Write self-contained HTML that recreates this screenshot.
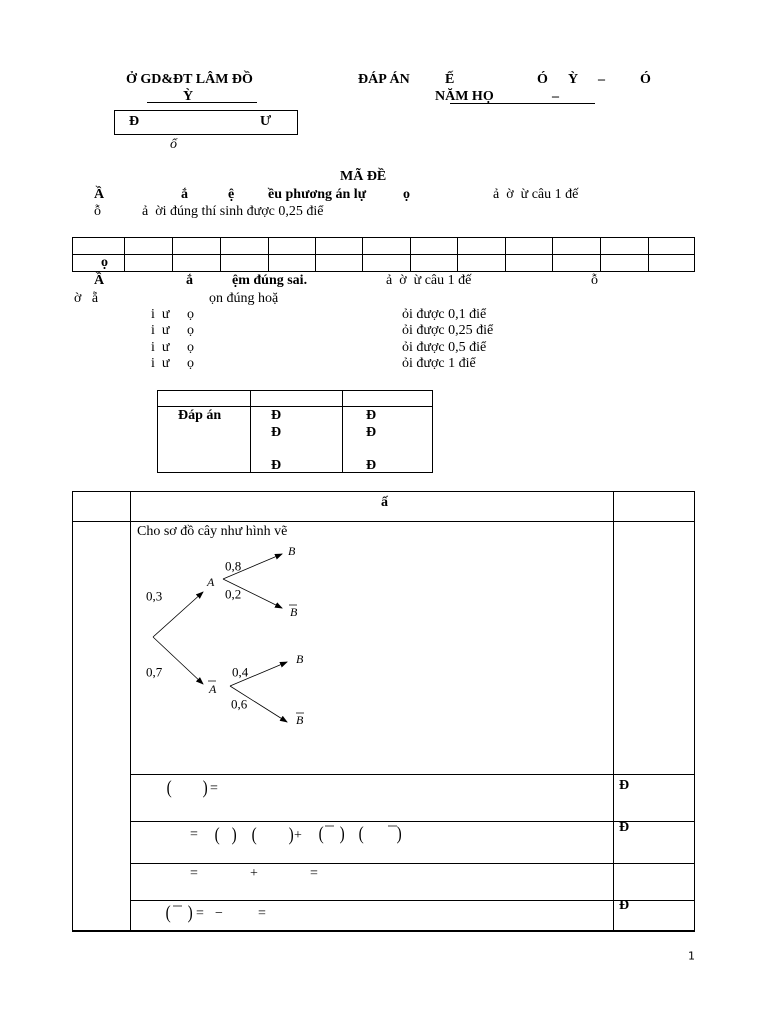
<!DOCTYPE html>
<html><head><meta charset="utf-8"><style>
body{margin:0;background:#fff}
#p{position:relative;width:768px;height:1024px;overflow:hidden;font-family:"Liberation Serif",serif;font-size:14px;color:#000}
.t{position:absolute;white-space:nowrap;line-height:1;transform:translateY(-50%)}
.b{font-weight:bold}
.l{position:absolute;background:#000}
.pr{font-size:19px;transform:translateY(-50%) scaleX(0.8)}
</style></head><body><div id="p">
<div class="t b" style="left:126px;top:80px">Ở GD&amp;ĐT LÂM ĐỒ</div>
<div class="t b" style="left:358px;top:80px">ĐÁP ÁN</div>
<div class="t b" style="left:445px;top:80px">Ế</div>
<div class="t b" style="left:537px;top:80px">Ó</div>
<div class="t b" style="left:568px;top:80px">Ỳ</div>
<div class="t b" style="left:598px;top:80px">–</div>
<div class="t b" style="left:640px;top:80px">Ó</div>
<div class="t b" style="left:183px;top:97px">Ỳ</div>
<div class="t b" style="left:435px;top:97px">NĂM HỌ</div>
<div class="t b" style="left:552px;top:97px">–</div>
<div class="l" style="left:147px;top:102px;width:110px;height:1px"></div>
<div class="l" style="left:450px;top:103px;width:145px;height:1px"></div>
<div style="position:absolute;left:114px;top:110px;width:182px;height:23px;border:1px solid #000"></div>
<div class="t b" style="left:129px;top:122px">Đ</div>
<div class="t b" style="left:260px;top:122px">Ư</div>
<div class="t" style="left:170px;top:145px;font-style:italic">ổ</div>
<div class="t b" style="left:340px;top:177px">MÃ ĐỀ</div>
<div class="t b" style="left:94px;top:195px">Ầ</div>
<div class="t b" style="left:181px;top:195px">ắ</div>
<div class="t b" style="left:228px;top:195px">ệ</div>
<div class="t b" style="left:268px;top:195px">ều phương án lự</div>
<div class="t b" style="left:403px;top:195px">ọ</div>
<div class="t" style="left:493px;top:195px">ả &nbsp;ờ &nbsp;ừ câu 1 đế</div>
<div class="t" style="left:94px;top:212px">ỗ</div>
<div class="t" style="left:142px;top:212px">ả &nbsp;ời đúng thí sinh được 0,25 điể</div>
<div style="position:absolute;left:72px;top:237px;width:621px;height:33px;border:1px solid #000"></div>
<div class="l" style="left:72px;top:254px;width:622px;height:1px"></div>
<div class="l" style="left:124px;top:237px;width:1px;height:34px"></div>
<div class="l" style="left:172px;top:237px;width:1px;height:34px"></div>
<div class="l" style="left:220px;top:237px;width:1px;height:34px"></div>
<div class="l" style="left:268px;top:237px;width:1px;height:34px"></div>
<div class="l" style="left:315px;top:237px;width:1px;height:34px"></div>
<div class="l" style="left:362px;top:237px;width:1px;height:34px"></div>
<div class="l" style="left:410px;top:237px;width:1px;height:34px"></div>
<div class="l" style="left:457px;top:237px;width:1px;height:34px"></div>
<div class="l" style="left:505px;top:237px;width:1px;height:34px"></div>
<div class="l" style="left:552px;top:237px;width:1px;height:34px"></div>
<div class="l" style="left:600px;top:237px;width:1px;height:34px"></div>
<div class="l" style="left:648px;top:237px;width:1px;height:34px"></div>
<div class="t b" style="left:101px;top:263px">ọ</div>
<div class="t b" style="left:94px;top:281px">Ầ</div>
<div class="t b" style="left:186px;top:281px">ắ</div>
<div class="t b" style="left:232px;top:281px">ệm đúng sai.</div>
<div class="t" style="left:386px;top:281px">ả &nbsp;ờ &nbsp;ừ câu 1 đế</div>
<div class="t" style="left:591px;top:281px">ỗ</div>
<div class="t" style="left:74px;top:299px">ờ &nbsp;&nbsp;ẵ</div>
<div class="t" style="left:209px;top:299px">ọn đúng hoặ</div>
<div class="t" style="left:151px;top:315px">i &nbsp;ư &nbsp;&nbsp;&nbsp;&nbsp;ọ</div>
<div class="t" style="left:151px;top:331px">i &nbsp;ư &nbsp;&nbsp;&nbsp;&nbsp;ọ</div>
<div class="t" style="left:151px;top:348px">i &nbsp;ư &nbsp;&nbsp;&nbsp;&nbsp;ọ</div>
<div class="t" style="left:151px;top:364px">i &nbsp;ư &nbsp;&nbsp;&nbsp;&nbsp;ọ</div>
<div class="t" style="left:402px;top:315px">ỏi được 0,1 điể</div>
<div class="t" style="left:402px;top:331px">ỏi được 0,25 điể</div>
<div class="t" style="left:402px;top:348px">ỏi được 0,5 điể</div>
<div class="t" style="left:402px;top:364px">ỏi được 1 điể</div>
<div style="position:absolute;left:157px;top:390px;width:274px;height:81px;border:1px solid #000"></div>
<div class="l" style="left:157px;top:406px;width:275px;height:1px"></div>
<div class="l" style="left:250px;top:390px;width:1px;height:82px"></div>
<div class="l" style="left:342px;top:390px;width:1px;height:82px"></div>
<div class="t b" style="left:178px;top:416px">Đáp án</div>
<div class="t b" style="left:271px;top:416px">Đ</div><div class="t b" style="left:366px;top:416px">Đ</div>
<div class="t b" style="left:271px;top:433px">Đ</div><div class="t b" style="left:366px;top:433px">Đ</div>
<div class="t b" style="left:271px;top:466px">Đ</div><div class="t b" style="left:366px;top:466px">Đ</div>
<div style="position:absolute;left:72px;top:491px;width:621px;height:438px;border:1px solid #000;border-bottom:2px solid #000"></div>
<div class="l" style="left:72px;top:521px;width:622px;height:1px"></div>
<div class="l" style="left:130px;top:491px;width:1px;height:440px"></div>
<div class="l" style="left:613px;top:491px;width:1px;height:440px"></div>
<div class="l" style="left:130px;top:774px;width:564px;height:1px"></div>
<div class="l" style="left:130px;top:821px;width:564px;height:1px"></div>
<div class="l" style="left:130px;top:863px;width:564px;height:1px"></div>
<div class="l" style="left:130px;top:900px;width:564px;height:1px"></div>
<div class="t b" style="left:381px;top:503px">ấ</div>
<div class="t" style="left:137px;top:532px">Cho sơ đồ cây như hình vẽ</div>
<svg style="position:absolute;left:0;top:0" width="768" height="1024">
<defs><marker id="a" markerWidth="8" markerHeight="6" refX="7" refY="3" orient="auto" markerUnits="userSpaceOnUse"><path d="M0,0L8,3L0,6z"/></marker></defs>
<g stroke="#000" stroke-width="0.8" fill="none" marker-end="url(#a)">
<path d="M153,637L203,592"/><path d="M153,637L203,684"/>
<path d="M223,579L282,554"/><path d="M223,579L282,608"/>
<path d="M230,686L287,662"/><path d="M230,686L287,722"/>
</g>
<g stroke="#000" stroke-width="0.8"><path d="M289,605h8M208,681h8M296,713h8"/>
<path d="M325,826h9M388,826h9M173,906h9"/></g>
</svg>
<div class="t" style="left:225px;top:566px;font-size:13px">0,8</div>
<div class="t" style="left:225px;top:594px;font-size:13px">0,2</div>
<div class="t" style="left:146px;top:596px;font-size:13px">0,3</div>
<div class="t" style="left:146px;top:672px;font-size:13px">0,7</div>
<div class="t" style="left:232px;top:672px;font-size:13px">0,4</div>
<div class="t" style="left:231px;top:704px;font-size:13px">0,6</div>
<div class="t" style="left:207px;top:582px;font-size:12px;font-style:italic">A</div>
<div class="t" style="left:288px;top:551px;font-size:12px;font-style:italic">B</div>
<div class="t" style="left:290px;top:612px;font-size:12px;font-style:italic">B</div>
<div class="t" style="left:209px;top:689px;font-size:12px;font-style:italic">A</div>
<div class="t" style="left:296px;top:659px;font-size:12px;font-style:italic">B</div>
<div class="t" style="left:296px;top:720px;font-size:12px;font-style:italic">B</div>
<!-- row 1 -->
<div class="t pr" style="left:166px;top:788px">(</div>
<div class="t pr" style="left:202px;top:788px">)</div>
<div class="t" style="left:210px;top:789px">=</div>
<div class="t b" style="left:619px;top:786px">Đ</div>
<!-- row 2 -->
<div class="t" style="left:190px;top:835px">=</div>
<div class="t pr" style="left:214px;top:835px">(</div>
<div class="t pr" style="left:231px;top:835px">)</div>
<div class="t pr" style="left:251px;top:835px">(</div>
<div class="t pr" style="left:288px;top:835px">)</div>
<div class="t" style="left:294px;top:836px">+</div>
<div class="t pr" style="left:318px;top:834px">(</div>
<div class="t pr" style="left:339px;top:834px">)</div>
<div class="t pr" style="left:358px;top:834px">(</div>
<div class="t pr" style="left:396px;top:834px">)</div>
<div class="t b" style="left:619px;top:828px">Đ</div>
<!-- row 3 -->
<div class="t" style="left:190px;top:874px">=</div>
<div class="t" style="left:250px;top:874px">+</div>
<div class="t" style="left:310px;top:874px">=</div>
<!-- row 4 -->
<div class="t pr" style="left:165px;top:913px">(</div>
<div class="t pr" style="left:187px;top:913px">)</div>
<div class="t" style="left:196px;top:914px">=</div>
<div class="t" style="left:215px;top:914px">−</div>
<div class="t" style="left:258px;top:914px">=</div>
<div class="t b" style="left:619px;top:906px">Đ</div>
<div class="t" style="left:688px;top:956px;font-family:'DejaVu Sans',sans-serif;font-size:11px">1</div>
</div></body></html>
